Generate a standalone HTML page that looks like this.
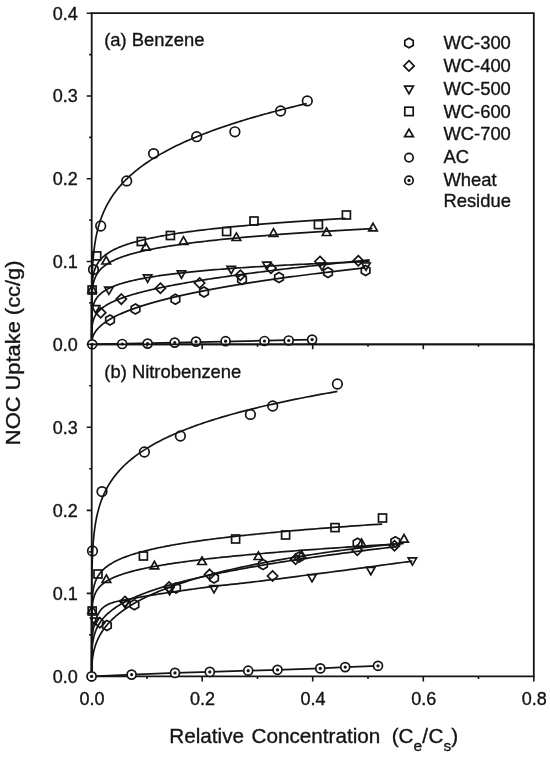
<!DOCTYPE html>
<html><head><meta charset="utf-8"><title>NOC Uptake</title>
<style>
html,body{margin:0;padding:0;background:#fff}
svg{display:block;filter:blur(0.35px)}
text{font-family:"Liberation Sans",Arial,sans-serif;fill:#141414;stroke:#141414;stroke-width:0.35px}
.l{font-size:18.4px}
.tl{font-size:18px}
.ti{font-size:20.7px}
.sub{font-size:15.5px}
.a{fill:none;stroke:#141414;stroke-width:1.8}
.t{fill:none;stroke:#141414;stroke-width:1.6}
.c{fill:none;stroke:#141414;stroke-width:1.7;stroke-linejoin:round}
.m{fill:none;stroke:#141414;stroke-width:1.7;stroke-linejoin:miter}
.d{fill:#141414}
.w{fill:#fff}
</style></head><body>
<svg width="550" height="757" viewBox="0 0 550 757">
<rect width="550" height="757" fill="#fff"/>
<g><path class="a" d="M91.7,13.2 H533.8 V344.3 H91.7 Z"/></g>
<g><polyline class="c" points="91.70,344.30 91.70,328.62 91.70,321.53 91.71,315.98 91.71,311.24 91.73,307.02 91.74,303.18 91.76,299.62 91.79,296.29 91.82,293.15 91.86,290.16 91.90,287.32 91.96,284.58 92.01,281.95 92.08,279.42 92.16,276.96 92.24,274.58 92.33,272.27 92.43,270.02 92.54,267.83 92.66,265.69 92.80,263.59 92.94,261.55 93.09,259.55 93.25,257.58 93.42,255.66 93.61,253.76 93.81,251.91 94.01,250.08 94.23,248.28 94.47,246.52 94.71,244.77 94.97,243.06 95.25,241.37 95.53,239.70 95.83,238.06 96.15,236.43 96.48,234.83 96.82,233.25 97.18,231.69 97.55,230.14 97.94,228.61 98.34,227.10 98.76,225.61 99.19,224.13 99.64,222.67 100.11,221.22 100.60,219.79 101.10,218.37 101.61,216.97 102.15,215.57 102.70,214.19 103.27,212.83 103.86,211.47 104.46,210.13 105.09,208.80 105.73,207.48 106.39,206.17 107.07,204.87 107.77,203.58 108.48,202.30 109.22,201.03 109.98,199.77 110.76,198.52 111.55,197.28 112.37,196.05 113.21,194.83 114.06,193.61 114.94,192.41 115.84,191.21 116.76,190.02 117.70,188.84 118.66,187.66 119.65,186.49 120.66,185.33 121.68,184.18 122.73,183.04 123.81,181.90 124.90,180.77 126.02,179.64 127.16,178.52 128.33,177.41 129.51,176.30 130.72,175.21 131.96,174.11 133.22,173.02 134.50,171.94 135.80,170.87 137.13,169.80 138.49,168.73 139.87,167.67 141.27,166.62 142.70,165.57 144.15,164.53 145.63,163.49 147.14,162.46 148.67,161.43 150.22,160.41 151.81,159.39 153.41,158.38 155.05,157.37 156.71,156.36 158.39,155.37 160.11,154.37 161.85,153.38 163.61,152.39 165.41,151.41 167.23,150.44 169.08,149.46 170.96,148.49 172.86,147.53 174.79,146.57 176.75,145.61 178.74,144.66 180.76,143.71 182.80,142.77 184.88,141.82 186.98,140.89 189.11,139.95 191.27,139.02 193.46,138.10 195.68,137.17 197.93,136.25 200.21,135.34 202.52,134.42 204.86,133.52 207.23,132.61 209.63,131.71 212.06,130.81 214.52,129.91 217.01,129.02 219.53,128.13 222.08,127.24 224.67,126.36 227.28,125.48 229.93,124.60 232.61,123.73 235.32,122.86 238.06,121.99 240.83,121.12 243.64,120.26 246.47,119.40 249.34,118.54 252.25,117.69 255.18,116.84 258.15,115.99 261.15,115.14 264.19,114.30 267.25,113.46 270.35,112.62 273.49,111.78 276.66,110.95 279.86,110.12 283.09,109.29 286.36,108.47 289.67,107.64 293.00,106.82 296.38,106.00 299.78,105.19 303.22,104.38 306.70,103.56"/>
<polyline class="c" points="91.70,344.30 91.70,317.86 91.70,311.57 91.71,307.21 91.72,303.78 91.73,300.89 91.75,298.38 91.77,296.15 91.81,294.13 91.84,292.27 91.89,290.56 91.94,288.95 92.00,287.45 92.07,286.03 92.15,284.69 92.24,283.40 92.34,282.18 92.45,281.01 92.57,279.89 92.70,278.80 92.84,277.76 92.99,276.75 93.16,275.78 93.34,274.83 93.53,273.92 93.74,273.03 93.95,272.16 94.19,271.32 94.43,270.50 94.69,269.69 94.97,268.91 95.26,268.15 95.57,267.40 95.89,266.66 96.23,265.95 96.58,265.25 96.95,264.56 97.34,263.88 97.74,263.22 98.17,262.57 98.61,261.93 99.07,261.30 99.54,260.68 100.04,260.07 100.55,259.48 101.08,258.89 101.63,258.31 102.21,257.74 102.80,257.17 103.41,256.62 104.04,256.07 104.69,255.53 105.36,255.00 106.06,254.48 106.77,253.96 107.51,253.45 108.27,252.94 109.05,252.45 109.85,251.95 110.67,251.47 111.52,250.99 112.39,250.51 113.29,250.04 114.20,249.58 115.14,249.12 116.11,248.66 117.10,248.21 118.11,247.77 119.15,247.33 120.21,246.89 121.29,246.46 122.41,246.03 123.54,245.61 124.71,245.19 125.89,244.78 127.11,244.37 128.35,243.96 129.62,243.56 130.91,243.16 132.23,242.76 133.58,242.37 134.95,241.98 136.35,241.60 137.78,241.21 139.24,240.84 140.73,240.46 142.24,240.09 143.78,239.72 145.35,239.35 146.95,238.99 148.58,238.63 150.24,238.27 151.93,237.91 153.65,237.56 155.39,237.21 157.17,236.86 158.98,236.52 160.81,236.18 162.68,235.84 164.58,235.50 166.51,235.17 168.47,234.83 170.46,234.50 172.48,234.18 174.54,233.85 176.63,233.53 178.75,233.21 180.90,232.89 183.08,232.57 185.30,232.26 187.55,231.94 189.83,231.63 192.14,231.33 194.49,231.02 196.87,230.71 199.29,230.41 201.74,230.11 204.22,229.81 206.74,229.52 209.29,229.22 211.88,228.93 214.50,228.64 217.15,228.35 219.85,228.06 222.57,227.77 225.33,227.49 228.13,227.20 230.96,226.92 233.83,226.64 236.74,226.36 239.68,226.09 242.66,225.81 245.67,225.54 248.72,225.27 251.81,225.00 254.94,224.73 258.10,224.46 261.30,224.19 264.54,223.93 267.81,223.67 271.13,223.40 274.48,223.14 277.87,222.88 281.29,222.63 284.76,222.37 288.27,222.11 291.81,221.86 295.39,221.61 299.02,221.36 302.68,221.11 306.38,220.86 310.12,220.61 313.90,220.36 317.72,220.12 321.58,219.88 325.48,219.63 329.42,219.39 333.41,219.15 337.43,218.91 341.49,218.67 345.60,218.44"/>
<polyline class="c" points="91.70,344.30 91.70,321.84 91.70,316.23 91.71,312.32 91.72,309.22 91.73,306.61 91.76,304.33 91.78,302.30 91.82,300.46 91.86,298.77 91.91,297.20 91.97,295.73 92.03,294.35 92.11,293.05 92.20,291.81 92.30,290.64 92.41,289.51 92.53,288.43 92.66,287.39 92.80,286.40 92.96,285.43 93.13,284.50 93.31,283.60 93.51,282.72 93.72,281.88 93.95,281.05 94.19,280.25 94.45,279.46 94.72,278.70 95.01,277.96 95.32,277.23 95.64,276.52 95.98,275.82 96.33,275.14 96.71,274.47 97.10,273.81 97.51,273.17 97.94,272.54 98.39,271.92 98.85,271.31 99.34,270.72 99.85,270.13 100.37,269.55 100.92,268.98 101.49,268.42 102.08,267.87 102.69,267.32 103.32,266.79 103.97,266.26 104.65,265.74 105.35,265.23 106.07,264.72 106.81,264.22 107.58,263.72 108.37,263.24 109.18,262.75 110.02,262.28 110.88,261.81 111.77,261.34 112.68,260.88 113.62,260.43 114.58,259.98 115.57,259.53 116.59,259.09 117.63,258.66 118.69,258.23 119.79,257.80 120.91,257.38 122.05,256.96 123.23,256.55 124.43,256.14 125.66,255.73 126.92,255.33 128.20,254.93 129.52,254.54 130.86,254.14 132.23,253.76 133.63,253.37 135.06,252.99 136.52,252.61 138.01,252.24 139.54,251.86 141.09,251.49 142.67,251.13 144.28,250.76 145.92,250.40 147.60,250.04 149.30,249.69 151.04,249.34 152.81,248.99 154.61,248.64 156.44,248.29 158.31,247.95 160.21,247.61 162.14,247.27 164.10,246.94 166.10,246.60 168.13,246.27 170.20,245.94 172.30,245.62 174.43,245.29 176.60,244.97 178.81,244.65 181.04,244.33 183.32,244.01 185.62,243.70 187.97,243.38 190.35,243.07 192.76,242.76 195.21,242.46 197.70,242.15 200.22,241.85 202.78,241.54 205.38,241.24 208.02,240.94 210.69,240.65 213.40,240.35 216.14,240.06 218.93,239.76 221.75,239.47 224.61,239.18 227.51,238.89 230.45,238.61 233.42,238.32 236.44,238.04 239.49,237.76 242.59,237.47 245.72,237.19 248.89,236.92 252.11,236.64 255.36,236.36 258.65,236.09 261.99,235.82 265.36,235.54 268.78,235.27 272.23,235.00 275.73,234.73 279.27,234.47 282.85,234.20 286.47,233.94 290.13,233.67 293.84,233.41 297.59,233.15 301.38,232.89 305.21,232.63 309.09,232.37 313.01,232.11 316.97,231.85 320.98,231.60 325.03,231.34 329.12,231.09 333.26,230.84 337.44,230.59 341.67,230.34 345.94,230.09 350.25,229.84 354.61,229.59 359.02,229.34 363.47,229.10 367.96,228.85 372.50,228.61"/>
<polyline class="c" points="91.70,344.30 91.70,333.24 91.70,329.64 91.71,327.02 91.72,324.88 91.73,323.05 91.75,321.41 91.78,319.94 91.82,318.58 91.86,317.32 91.91,316.15 91.96,315.04 92.03,313.99 92.11,312.99 92.19,312.03 92.29,311.12 92.40,310.24 92.52,309.39 92.65,308.58 92.79,307.79 92.95,307.02 93.12,306.28 93.30,305.56 93.49,304.85 93.70,304.17 93.93,303.50 94.17,302.85 94.42,302.21 94.69,301.59 94.98,300.98 95.28,300.39 95.60,299.80 95.93,299.23 96.29,298.67 96.66,298.12 97.04,297.58 97.45,297.04 97.88,296.52 98.32,296.01 98.78,295.50 99.26,295.00 99.76,294.51 100.29,294.03 100.83,293.56 101.39,293.09 101.97,292.62 102.58,292.17 103.20,291.72 103.85,291.28 104.52,290.84 105.21,290.41 105.92,289.98 106.66,289.56 107.42,289.15 108.20,288.74 109.01,288.33 109.84,287.93 110.69,287.53 111.57,287.14 112.48,286.76 113.40,286.37 114.36,286.00 115.33,285.62 116.34,285.25 117.37,284.89 118.42,284.52 119.51,284.17 120.62,283.81 121.75,283.46 122.91,283.11 124.10,282.77 125.32,282.43 126.57,282.09 127.84,281.76 129.14,281.43 130.47,281.10 131.83,280.78 133.22,280.46 134.63,280.14 136.08,279.83 137.55,279.51 139.06,279.20 140.59,278.90 142.16,278.59 143.75,278.29 145.38,278.00 147.04,277.70 148.73,277.41 150.45,277.12 152.20,276.83 153.98,276.55 155.80,276.26 157.64,275.98 159.52,275.71 161.44,275.43 163.38,275.16 165.36,274.89 167.37,274.62 169.42,274.36 171.50,274.09 173.61,273.83 175.76,273.57 177.94,273.32 180.15,273.06 182.40,272.81 184.69,272.56 187.01,272.31 189.36,272.06 191.75,271.82 194.18,271.58 196.64,271.34 199.14,271.10 201.68,270.86 204.25,270.63 206.86,270.40 209.50,270.17 212.18,269.94 214.90,269.71 217.66,269.49 220.45,269.27 223.28,269.04 226.15,268.83 229.06,268.61 232.01,268.39 234.99,268.18 238.02,267.97 241.08,267.76 244.18,267.55 247.32,267.34 250.51,267.14 253.73,266.94 256.99,266.74 260.29,266.54 263.63,266.34 267.01,266.14 270.43,265.95 273.89,265.75 277.40,265.56 280.94,265.37 284.53,265.19 288.16,265.00 291.83,264.81 295.54,264.63 299.29,264.45 303.09,264.27 306.92,264.09 310.80,263.91 314.73,263.74 318.69,263.57 322.70,263.39 326.76,263.22 330.85,263.05 334.99,262.89 339.17,262.72 343.40,262.56 347.67,262.39 351.99,262.23 356.35,262.07 360.76,261.91 365.21,261.75 369.70,261.60"/>
<polyline class="c" points="91.70,344.30 91.70,340.00 91.70,337.98 91.71,336.38 91.72,335.00 91.73,333.78 91.75,332.65 91.78,331.61 91.82,330.63 91.86,329.71 91.91,328.83 91.96,327.98 92.03,327.17 92.11,326.39 92.19,325.64 92.29,324.90 92.40,324.19 92.52,323.50 92.65,322.82 92.79,322.16 92.95,321.52 93.12,320.88 93.30,320.26 93.49,319.66 93.70,319.06 93.93,318.47 94.17,317.90 94.42,317.33 94.69,316.77 94.98,316.22 95.28,315.67 95.60,315.13 95.93,314.60 96.29,314.08 96.66,313.56 97.04,313.05 97.45,312.54 97.88,312.04 98.32,311.54 98.78,311.05 99.26,310.56 99.76,310.08 100.29,309.60 100.83,309.12 101.39,308.65 101.97,308.18 102.58,307.72 103.20,307.26 103.85,306.80 104.52,306.34 105.21,305.89 105.92,305.44 106.66,304.99 107.42,304.55 108.20,304.10 109.01,303.66 109.84,303.23 110.69,302.79 111.57,302.36 112.48,301.93 113.40,301.50 114.36,301.07 115.33,300.64 116.34,300.22 117.37,299.79 118.42,299.37 119.51,298.95 120.62,298.53 121.75,298.11 122.91,297.70 124.10,297.28 125.32,296.87 126.57,296.45 127.84,296.04 129.14,295.63 130.47,295.22 131.83,294.81 133.22,294.40 134.63,293.99 136.08,293.58 137.55,293.17 139.06,292.77 140.59,292.36 142.16,291.96 143.75,291.55 145.38,291.15 147.04,290.74 148.73,290.34 150.45,289.93 152.20,289.53 153.98,289.13 155.80,288.72 157.64,288.32 159.52,287.92 161.44,287.52 163.38,287.11 165.36,286.71 167.37,286.31 169.42,285.91 171.50,285.50 173.61,285.10 175.76,284.70 177.94,284.29 180.15,283.89 182.40,283.49 184.69,283.08 187.01,282.68 189.36,282.27 191.75,281.87 194.18,281.46 196.64,281.06 199.14,280.65 201.68,280.25 204.25,279.84 206.86,279.43 209.50,279.02 212.18,278.62 214.90,278.21 217.66,277.80 220.45,277.39 223.28,276.98 226.15,276.57 229.06,276.15 232.01,275.74 234.99,275.33 238.02,274.91 241.08,274.50 244.18,274.08 247.32,273.67 250.51,273.25 253.73,272.83 256.99,272.41 260.29,272.00 263.63,271.57 267.01,271.15 270.43,270.73 273.89,270.31 277.40,269.88 280.94,269.46 284.53,269.03 288.16,268.61 291.83,268.18 295.54,267.75 299.29,267.32 303.09,266.89 306.92,266.46 310.80,266.02 314.73,265.59 318.69,265.15 322.70,264.72 326.76,264.28 330.85,263.84 334.99,263.40 339.17,262.96 343.40,262.52 347.67,262.08 351.99,261.63 356.35,261.18 360.76,260.74 365.21,260.29 369.70,259.84"/>
<polyline class="c" points="91.70,344.30 91.70,344.04 91.70,343.73 91.71,343.39 91.72,343.04 91.73,342.68 91.75,342.31 91.78,341.93 91.81,341.54 91.85,341.14 91.90,340.74 91.96,340.34 92.02,339.93 92.10,339.51 92.18,339.09 92.28,338.67 92.39,338.24 92.50,337.81 92.63,337.38 92.77,336.94 92.92,336.50 93.09,336.06 93.27,335.62 93.46,335.17 93.67,334.72 93.89,334.27 94.12,333.81 94.37,333.36 94.64,332.90 94.92,332.44 95.22,331.98 95.53,331.52 95.86,331.05 96.20,330.59 96.57,330.12 96.95,329.65 97.35,329.18 97.76,328.71 98.20,328.23 98.65,327.76 99.13,327.28 99.62,326.81 100.13,326.33 100.66,325.85 101.22,325.37 101.79,324.89 102.38,324.41 103.00,323.92 103.63,323.44 104.29,322.95 104.97,322.47 105.67,321.98 106.39,321.49 107.14,321.00 107.91,320.52 108.70,320.03 109.51,319.53 110.35,319.04 111.21,318.55 112.10,318.06 113.01,317.57 113.95,317.07 114.91,316.58 115.90,316.08 116.91,315.59 117.94,315.09 119.01,314.60 120.10,314.10 121.21,313.61 122.35,313.11 123.52,312.61 124.72,312.11 125.94,311.61 127.19,311.12 128.47,310.62 129.77,310.12 131.11,309.62 132.47,309.12 133.86,308.62 135.28,308.12 136.73,307.62 138.21,307.12 139.71,306.62 141.25,306.12 142.82,305.61 144.42,305.11 146.04,304.61 147.70,304.11 149.39,303.61 151.11,303.11 152.86,302.61 154.64,302.10 156.46,301.60 158.30,301.10 160.18,300.60 162.09,300.10 164.04,299.59 166.01,299.09 168.02,298.59 170.06,298.09 172.14,297.59 174.24,297.09 176.39,296.58 178.56,296.08 180.77,295.58 183.02,295.08 185.29,294.58 187.61,294.08 189.95,293.58 192.34,293.08 194.76,292.58 197.21,292.08 199.70,291.58 202.22,291.08 204.78,290.58 207.38,290.08 210.02,289.58 212.69,289.08 215.39,288.58 218.14,288.08 220.92,287.58 223.74,287.09 226.59,286.59 229.49,286.09 232.42,285.59 235.39,285.10 238.39,284.60 241.44,284.10 244.53,283.61 247.65,283.11 250.81,282.62 254.01,282.12 257.26,281.63 260.54,281.14 263.86,280.64 267.22,280.15 270.62,279.66 274.06,279.16 277.54,278.67 281.06,278.18 284.62,277.69 288.23,277.20 291.87,276.71 295.56,276.22 299.28,275.73 303.05,275.24 306.86,274.75 310.72,274.26 314.61,273.78 318.55,273.29 322.53,272.80 326.55,272.32 330.62,271.83 334.72,271.35 338.88,270.86 343.07,270.38 347.31,269.90 351.59,269.41 355.92,268.93 360.29,268.45 364.70,267.97"/>
<polyline class="c" points="91.70,344.30 312.10,339.70"/></g>
<g><polygon class="m" points="110.0,315.0 105.7,317.5 105.7,322.5 110.0,325.0 114.3,322.5 114.3,317.5"/>
<polygon class="m" points="135.5,304.1 131.2,306.6 131.2,311.6 135.5,314.1 139.8,311.6 139.8,306.6"/>
<polygon class="m" points="175.4,294.2 171.1,296.7 171.1,301.7 175.4,304.2 179.7,301.7 179.7,296.7"/>
<polygon class="m" points="204.0,287.0 199.7,289.5 199.7,294.5 204.0,297.0 208.3,294.5 208.3,289.5"/>
<polygon class="m" points="242.0,274.5 237.7,277.0 237.7,282.0 242.0,284.5 246.3,282.0 246.3,277.0"/>
<polygon class="m" points="279.0,272.5 274.7,275.0 274.7,280.0 279.0,282.5 283.3,280.0 283.3,275.0"/>
<polygon class="m" points="328.0,267.6 323.7,270.1 323.7,275.1 328.0,277.6 332.3,275.1 332.3,270.1"/>
<polygon class="m" points="365.6,265.6 361.3,268.1 361.3,273.1 365.6,275.6 369.9,273.1 369.9,268.1"/>
<polygon class="m" points="100.7,307.6 105.8,312.7 100.7,317.8 95.6,312.7"/>
<polygon class="m" points="121.3,294.0 126.4,299.1 121.3,304.2 116.2,299.1"/>
<polygon class="m" points="160.4,283.1 165.5,288.2 160.4,293.3 155.3,288.2"/>
<polygon class="m" points="199.6,277.9 204.7,283.0 199.6,288.1 194.5,283.0"/>
<polygon class="m" points="240.4,270.1 245.5,275.2 240.4,280.3 235.3,275.2"/>
<polygon class="m" points="271.0,263.1 276.1,268.2 271.0,273.3 265.9,268.2"/>
<polygon class="m" points="320.0,256.4 325.1,261.5 320.0,266.6 314.9,261.5"/>
<polygon class="m" points="358.3,255.7 363.4,260.8 358.3,265.9 353.2,260.8"/>
<polygon class="m" points="91.4,305.6 99.8,305.6 95.6,312.9"/>
<polygon class="m" points="104.7,287.1 113.1,287.1 108.9,294.4"/>
<polygon class="m" points="143.4,274.9 151.8,274.9 147.6,282.2"/>
<polygon class="m" points="177.3,270.9 185.7,270.9 181.5,278.2"/>
<polygon class="m" points="227.0,266.4 235.4,266.4 231.2,273.7"/>
<polygon class="m" points="262.7,262.1 271.1,262.1 266.9,269.4"/>
<polygon class="m" points="317.8,263.0 326.2,263.0 322.0,270.3"/>
<polygon class="m" points="361.8,263.0 370.2,263.0 366.0,270.3"/>
<rect class="m" x="88.1" y="286.0" width="8.0" height="8.0"/>
<rect class="m" x="92.7" y="251.9" width="8.0" height="8.0"/>
<rect class="m" x="137.3" y="237.5" width="8.0" height="8.0"/>
<rect class="m" x="166.4" y="231.5" width="8.0" height="8.0"/>
<rect class="m" x="222.6" y="227.5" width="8.0" height="8.0"/>
<rect class="m" x="250.0" y="217.0" width="8.0" height="8.0"/>
<rect class="m" x="314.4" y="220.6" width="8.0" height="8.0"/>
<rect class="m" x="342.4" y="211.0" width="8.0" height="8.0"/>
<polygon class="m" points="87.9,292.5 96.5,292.5 92.2,284.9"/>
<polygon class="m" points="101.9,264.0 110.5,264.0 106.2,256.4"/>
<polygon class="m" points="141.5,250.1 150.1,250.1 145.8,242.5"/>
<polygon class="m" points="179.2,244.3 187.8,244.3 183.5,236.7"/>
<polygon class="m" points="232.1,240.5 240.7,240.5 236.4,232.9"/>
<polygon class="m" points="269.2,236.3 277.8,236.3 273.5,228.7"/>
<polygon class="m" points="322.3,235.5 330.9,235.5 326.6,227.9"/>
<polygon class="m" points="368.7,230.9 377.3,230.9 373.0,223.3"/>
<circle class="m" cx="93.5" cy="269.6" r="4.8"/>
<circle class="m" cx="100.7" cy="226.0" r="4.8"/>
<circle class="m" cx="126.7" cy="180.9" r="4.8"/>
<circle class="m" cx="153.6" cy="153.6" r="4.8"/>
<circle class="m" cx="196.7" cy="136.7" r="4.8"/>
<circle class="m" cx="234.9" cy="131.8" r="4.8"/>
<circle class="m" cx="280.6" cy="111.0" r="4.8"/>
<circle class="m" cx="307.3" cy="100.9" r="4.8"/>
<circle class="m w" cx="92.2" cy="344.3" r="4.5"/><circle class="d" cx="92.2" cy="344.3" r="1.6"/>
<circle class="m w" cx="122.2" cy="344.0" r="4.5"/><circle class="d" cx="122.2" cy="344.0" r="1.6"/>
<circle class="m w" cx="147.6" cy="343.6" r="4.5"/><circle class="d" cx="147.6" cy="343.6" r="1.6"/>
<circle class="m w" cx="174.7" cy="342.6" r="4.5"/><circle class="d" cx="174.7" cy="342.6" r="1.6"/>
<circle class="m w" cx="196.0" cy="341.6" r="4.5"/><circle class="d" cx="196.0" cy="341.6" r="1.6"/>
<circle class="m w" cx="225.6" cy="341.2" r="4.5"/><circle class="d" cx="225.6" cy="341.2" r="1.6"/>
<circle class="m w" cx="264.5" cy="341.0" r="4.5"/><circle class="d" cx="264.5" cy="341.0" r="1.6"/>
<circle class="m w" cx="288.7" cy="340.5" r="4.5"/><circle class="d" cx="288.7" cy="340.5" r="1.6"/>
<circle class="m w" cx="312.1" cy="339.6" r="4.5"/><circle class="d" cx="312.1" cy="339.6" r="1.6"/></g>
<g><path class="a" d="M91.7,344.3 H533.8 V676.4 H91.7 Z"/></g>
<g><path class="t" d="M91.7,344.3 v5.0 M91.7,676.4 v5.0 M147.0,344.3 v2.5 M147.0,676.4 v2.5 M202.2,344.3 v5.0 M202.2,676.4 v5.0 M257.5,344.3 v2.5 M257.5,676.4 v2.5 M312.7,344.3 v5.0 M312.7,676.4 v5.0 M368.0,344.3 v2.5 M368.0,676.4 v2.5 M423.3,344.3 v5.0 M423.3,676.4 v5.0 M478.5,344.3 v2.5 M478.5,676.4 v2.5 M533.8,344.3 v5.0 M533.8,676.4 v5.0 M91.7,344.3 h-5.0 M91.7,676.4 h-5.0 M91.7,302.9 h-2.5 M91.7,634.9 h-2.5 M91.7,261.5 h-5.0 M91.7,593.4 h-5.0 M91.7,220.1 h-2.5 M91.7,551.9 h-2.5 M91.7,178.8 h-5.0 M91.7,510.4 h-5.0 M91.7,137.4 h-2.5 M91.7,468.8 h-2.5 M91.7,96.0 h-5.0 M91.7,427.3 h-5.0 M91.7,54.6 h-2.5 M91.7,385.8 h-2.5 M91.7,13.2 h-5.0"/></g>
<g><polyline class="c" points="91.70,676.40 91.70,636.50 91.70,624.21 91.71,615.34 91.72,608.14 91.73,601.97 91.75,596.53 91.77,591.61 91.80,587.11 91.84,582.94 91.88,579.05 91.93,575.39 91.99,571.92 92.06,568.63 92.14,565.50 92.22,562.49 92.32,559.61 92.42,556.83 92.54,554.16 92.66,551.57 92.80,549.06 92.95,546.63 93.11,544.27 93.29,541.98 93.47,539.74 93.67,537.56 93.88,535.44 94.11,533.36 94.34,531.33 94.60,529.35 94.86,527.40 95.15,525.50 95.44,523.63 95.75,521.80 96.08,520.00 96.42,518.24 96.78,516.50 97.16,514.79 97.55,513.12 97.96,511.46 98.38,509.84 98.83,508.24 99.29,506.66 99.77,505.11 100.26,503.57 100.78,502.06 101.31,500.57 101.87,499.10 102.44,497.65 103.03,496.21 103.64,494.80 104.27,493.40 104.92,492.02 105.59,490.65 106.29,489.30 107.00,487.97 107.73,486.65 108.49,485.34 109.26,484.05 110.06,482.77 110.88,481.51 111.72,480.26 112.59,479.02 113.48,477.79 114.39,476.57 115.32,475.37 116.28,474.18 117.26,473.00 118.26,471.83 119.29,470.67 120.34,469.52 121.41,468.38 122.51,467.24 123.64,466.12 124.79,465.01 125.97,463.91 127.17,462.82 128.39,461.73 129.64,460.66 130.92,459.59 132.23,458.53 133.56,457.48 134.91,456.44 136.30,455.40 137.71,454.37 139.14,453.35 140.61,452.34 142.10,451.34 143.62,450.34 145.17,449.34 146.75,448.36 148.35,447.38 149.98,446.41 151.64,445.44 153.33,444.49 155.05,443.53 156.80,442.59 158.58,441.65 160.39,440.71 162.23,439.78 164.09,438.86 165.99,437.94 167.92,437.03 169.88,436.12 171.86,435.22 173.88,434.33 175.93,433.44 178.02,432.55 180.13,431.67 182.27,430.80 184.45,429.92 186.66,429.06 188.90,428.20 191.17,427.34 193.48,426.49 195.81,425.64 198.18,424.80 200.59,423.96 203.02,423.13 205.49,422.30 208.00,421.47 210.53,420.65 213.10,419.84 215.71,419.02 218.35,418.22 221.02,417.41 223.73,416.61 226.47,415.81 229.24,415.02 232.05,414.23 234.90,413.45 237.78,412.66 240.70,411.89 243.65,411.11 246.64,410.34 249.67,409.57 252.73,408.81 255.82,408.05 258.95,407.29 262.12,406.54 265.33,405.79 268.57,405.04 271.85,404.30 275.17,403.56 278.53,402.82 281.92,402.08 285.35,401.35 288.81,400.62 292.32,399.90 295.86,399.18 299.44,398.46 303.07,397.74 306.72,397.03 310.42,396.32 314.16,395.61 317.93,394.90 321.75,394.20 325.60,393.50 329.49,392.81 333.43,392.11 337.40,391.42"/>
<polyline class="c" points="91.70,676.40 91.70,638.17 91.70,630.38 91.71,625.11 91.72,621.01 91.74,617.60 91.76,614.66 91.79,612.06 91.82,609.72 91.86,607.59 91.91,605.62 91.98,603.79 92.05,602.08 92.13,600.48 92.22,598.95 92.32,597.51 92.43,596.14 92.55,594.82 92.69,593.56 92.84,592.36 93.00,591.19 93.18,590.07 93.37,588.99 93.57,587.94 93.79,586.93 94.03,585.94 94.28,584.98 94.54,584.05 94.83,583.15 95.13,582.27 95.44,581.40 95.77,580.56 96.12,579.74 96.49,578.94 96.88,578.15 97.28,577.38 97.71,576.63 98.15,575.89 98.62,575.17 99.10,574.46 99.60,573.76 100.13,573.07 100.67,572.40 101.24,571.73 101.83,571.08 102.43,570.44 103.07,569.81 103.72,569.18 104.40,568.57 105.10,567.97 105.82,567.37 106.56,566.78 107.33,566.20 108.13,565.63 108.94,565.07 109.79,564.51 110.65,563.96 111.55,563.41 112.47,562.88 113.41,562.34 114.38,561.82 115.38,561.30 116.40,560.79 117.45,560.28 118.52,559.77 119.63,559.28 120.76,558.78 121.92,558.30 123.10,557.81 124.32,557.34 125.56,556.86 126.83,556.39 128.13,555.93 129.46,555.47 130.82,555.01 132.21,554.56 133.63,554.11 135.08,553.66 136.56,553.22 138.07,552.78 139.61,552.35 141.19,551.92 142.79,551.49 144.43,551.06 146.10,550.64 147.79,550.22 149.53,549.81 151.29,549.39 153.09,548.98 154.92,548.58 156.78,548.17 158.68,547.77 160.61,547.37 162.57,546.97 164.57,546.58 166.61,546.19 168.67,545.80 170.78,545.41 172.91,545.03 175.08,544.64 177.29,544.26 179.54,543.88 181.81,543.51 184.13,543.13 186.48,542.76 188.87,542.39 191.29,542.02 193.75,541.65 196.25,541.29 198.79,540.93 201.36,540.56 203.97,540.20 206.62,539.85 209.31,539.49 212.03,539.13 214.80,538.78 217.60,538.43 220.44,538.08 223.32,537.73 226.24,537.38 229.20,537.04 232.20,536.69 235.24,536.35 238.32,536.00 241.44,535.66 244.60,535.32 247.80,534.98 251.04,534.65 254.32,534.31 257.65,533.98 261.01,533.64 264.42,533.31 267.87,532.98 271.36,532.65 274.89,532.32 278.47,531.99 282.09,531.66 285.75,531.33 289.45,531.01 293.20,530.68 296.99,530.36 300.82,530.03 304.70,529.71 308.62,529.39 312.59,529.07 316.60,528.75 320.66,528.43 324.76,528.11 328.90,527.79 333.09,527.47 337.32,527.16 341.60,526.84 345.93,526.53 350.30,526.21 354.72,525.90 359.18,525.58 363.69,525.27 368.25,524.96 372.85,524.65 377.50,524.34 382.20,524.03"/>
<polyline class="c" points="91.70,676.40 91.70,639.95 91.70,633.20 91.71,628.69 91.72,625.21 91.74,622.34 91.76,619.87 91.79,617.69 91.83,615.74 91.88,613.96 91.93,612.33 92.00,610.81 92.07,609.40 92.16,608.07 92.25,606.82 92.36,605.63 92.48,604.50 92.62,603.42 92.76,602.39 92.92,601.40 93.10,600.45 93.29,599.53 93.49,598.65 93.71,597.79 93.95,596.96 94.20,596.16 94.47,595.38 94.75,594.62 95.05,593.88 95.37,593.17 95.71,592.47 96.07,591.78 96.45,591.11 96.84,590.46 97.26,589.82 97.69,589.20 98.15,588.59 98.62,587.99 99.12,587.40 99.64,586.82 100.18,586.25 100.74,585.69 101.32,585.15 101.93,584.61 102.56,584.08 103.21,583.56 103.89,583.04 104.59,582.54 105.32,582.04 106.07,581.55 106.84,581.06 107.64,580.58 108.47,580.11 109.32,579.64 110.20,579.18 111.10,578.73 112.03,578.28 112.99,577.83 113.97,577.39 114.99,576.96 116.03,576.53 117.09,576.11 118.19,575.68 119.32,575.27 120.47,574.86 121.65,574.45 122.87,574.04 124.11,573.64 125.38,573.24 126.69,572.85 128.02,572.46 129.38,572.07 130.78,571.69 132.21,571.31 133.67,570.93 135.16,570.55 136.68,570.18 138.23,569.81 139.82,569.45 141.44,569.08 143.09,568.72 144.78,568.36 146.50,568.00 148.26,567.65 150.05,567.29 151.87,566.94 153.73,566.59 155.62,566.25 157.55,565.90 159.51,565.56 161.51,565.22 163.54,564.88 165.62,564.54 167.72,564.21 169.87,563.87 172.05,563.54 174.26,563.21 176.52,562.88 178.81,562.55 181.14,562.22 183.51,561.90 185.92,561.57 188.36,561.25 190.84,560.93 193.37,560.61 195.93,560.29 198.53,559.97 201.17,559.65 203.85,559.33 206.57,559.02 209.33,558.71 212.13,558.39 214.97,558.08 217.85,557.77 220.77,557.46 223.74,557.15 226.74,556.84 229.79,556.53 232.88,556.22 236.01,555.91 239.19,555.61 242.40,555.30 245.66,555.00 248.97,554.69 252.31,554.39 255.70,554.08 259.14,553.78 262.61,553.48 266.13,553.18 269.70,552.87 273.31,552.57 276.96,552.27 280.66,551.97 284.41,551.67 288.20,551.37 292.03,551.07 295.91,550.77 299.84,550.47 303.81,550.18 307.83,549.88 311.90,549.58 316.01,549.28 320.17,548.98 324.38,548.68 328.63,548.39 332.94,548.09 337.29,547.79 341.68,547.50 346.13,547.20 350.62,546.90 355.16,546.60 359.76,546.31 364.40,546.01 369.09,545.71 373.82,545.42 378.61,545.12 383.45,544.82 388.34,544.52 393.27,544.23 398.26,543.93 403.30,543.63"/>
<polyline class="c" points="91.70,676.40 91.70,666.68 91.70,662.47 91.71,659.20 91.72,656.42 91.74,653.97 91.76,651.73 91.79,649.68 91.83,647.75 91.88,645.94 91.94,644.23 92.00,642.59 92.08,641.03 92.17,639.53 92.27,638.08 92.38,636.68 92.51,635.32 92.64,634.01 92.79,632.73 92.96,631.48 93.14,630.27 93.33,629.08 93.54,627.92 93.77,626.79 94.01,625.68 94.27,624.59 94.55,623.53 94.84,622.48 95.15,621.45 95.48,620.44 95.83,619.44 96.20,618.46 96.58,617.50 96.99,616.55 97.42,615.61 97.87,614.69 98.33,613.78 98.82,612.88 99.34,612.02 99.87,611.21 100.42,610.45 101.00,609.73 101.60,609.05 102.23,608.40 102.88,607.80 103.55,607.22 104.25,606.68 104.97,606.17 105.72,605.69 106.49,605.24 107.29,604.80 108.11,604.39 108.96,604.00 109.83,603.63 110.74,603.28 111.67,602.95 112.63,602.63 113.61,602.32 114.62,602.04 115.67,601.76 116.74,601.50 117.84,601.25 118.96,601.01 120.12,600.77 121.31,600.55 122.53,600.36 123.78,600.16 125.06,599.93 126.37,599.69 127.71,599.44 129.08,599.18 130.48,598.92 131.92,598.65 133.39,598.37 134.89,598.10 136.42,597.81 137.99,597.53 139.59,597.24 141.23,596.95 142.89,596.65 144.60,596.35 146.33,596.05 148.10,595.75 149.91,595.45 151.75,595.15 153.63,594.84 155.54,594.54 157.49,594.23 159.47,593.92 161.49,593.62 163.55,593.31 165.64,593.00 167.77,592.69 169.94,592.39 172.15,592.08 174.39,591.77 176.68,591.44 179.00,591.11 181.36,590.77 183.75,590.42 186.19,590.07 188.67,589.71 191.18,589.35 193.74,588.99 196.33,588.62 198.97,588.26 201.65,587.90 204.36,587.54 207.12,587.18 209.92,586.82 212.76,586.47 215.64,586.13 218.57,585.79 221.53,585.46 224.54,585.13 227.59,584.80 230.69,584.47 233.82,584.13 237.00,583.79 240.23,583.44 243.50,583.08 246.81,582.70 250.16,582.32 253.56,581.91 257.00,581.50 260.49,581.07 264.03,580.64 267.60,580.19 271.23,579.73 274.90,579.26 278.61,578.79 282.37,578.30 286.18,577.81 290.04,577.31 293.94,576.81 297.88,576.29 301.88,575.77 305.92,575.25 310.01,574.72 314.15,574.18 318.33,573.65 322.56,573.10 326.85,572.56 331.18,572.00 335.55,571.45 339.98,570.87 344.46,570.29 348.98,569.68 353.56,569.07 358.18,568.45 362.86,567.81 367.58,567.17 372.36,566.52 377.19,565.86 382.06,565.19 386.99,564.52 391.97,563.84 397.00,563.16 402.08,562.48 407.21,561.79 412.40,561.10"/>
<polyline class="c" points="91.70,676.40 91.70,670.30 91.70,667.21 91.71,664.73 91.72,662.58 91.74,660.63 91.76,658.84 91.79,657.17 91.83,655.60 91.87,654.10 91.93,652.67 91.99,651.30 92.06,649.97 92.15,648.70 92.24,647.46 92.35,646.25 92.47,645.08 92.60,643.94 92.74,642.82 92.90,641.73 93.07,640.66 93.26,639.62 93.46,638.59 93.67,637.58 93.90,636.59 94.15,635.62 94.41,634.66 94.69,633.71 94.99,632.78 95.31,631.86 95.64,630.96 95.99,630.06 96.36,629.18 96.75,628.31 97.15,627.44 97.58,626.59 98.03,625.75 98.49,624.91 98.98,624.09 99.49,623.27 100.02,622.46 100.57,621.65 101.14,620.86 101.74,620.07 102.36,619.29 103.00,618.51 103.66,617.74 104.35,616.98 105.06,616.22 105.80,615.47 106.56,614.73 107.35,613.99 108.16,613.25 108.99,612.52 109.85,611.79 110.74,611.07 111.65,610.36 112.59,609.64 113.56,608.94 114.55,608.23 115.57,607.53 116.62,606.83 117.70,606.14 118.80,605.45 119.94,604.77 121.10,604.08 122.29,603.41 123.51,602.73 124.76,602.06 126.03,601.39 127.34,600.72 128.68,600.06 130.05,599.40 131.45,598.74 132.88,598.08 134.35,597.43 135.84,596.78 137.37,596.13 138.92,595.48 140.52,594.84 142.14,594.20 143.79,593.56 145.48,592.92 147.20,592.29 148.96,591.66 150.75,591.03 152.57,590.40 154.43,589.77 156.32,589.14 158.25,588.52 160.21,587.90 162.21,587.28 164.24,586.66 166.31,586.04 168.41,585.43 170.55,584.81 172.73,584.20 174.94,583.59 177.19,582.98 179.48,582.37 181.80,581.76 184.16,581.15 186.56,580.55 189.00,579.94 191.47,579.34 193.99,578.74 196.54,578.14 199.13,577.54 201.76,576.94 204.43,576.34 207.14,575.74 209.89,575.15 212.67,574.55 215.50,573.96 218.37,573.36 221.28,572.77 224.23,572.18 227.22,571.59 230.25,570.99 233.33,570.40 236.44,569.81 239.60,569.22 242.80,568.64 246.04,568.05 249.32,567.46 252.65,566.87 256.02,566.29 259.43,565.70 262.89,565.12 266.39,564.53 269.93,563.94 273.52,563.36 277.15,562.78 280.82,562.19 284.54,561.61 288.30,561.02 292.11,560.44 295.97,559.86 299.87,559.28 303.81,558.69 307.80,558.11 311.84,557.53 315.92,556.95 320.05,556.36 324.22,555.78 328.45,555.20 332.71,554.62 337.03,554.04 341.39,553.45 345.80,552.87 350.26,552.29 354.77,551.71 359.32,551.13 363.92,550.55 368.57,549.96 373.27,549.38 378.02,548.80 382.82,548.22 387.66,547.63 392.56,547.05 397.50,546.47"/>
<polyline class="c" points="91.70,676.40 91.70,675.14 91.70,673.96 91.71,672.81 91.72,671.68 91.74,670.56 91.76,669.45 91.79,668.35 91.83,667.26 91.88,666.18 91.93,665.11 92.00,664.03 92.07,662.97 92.16,661.91 92.25,660.85 92.36,659.80 92.48,658.75 92.62,657.71 92.77,656.67 92.93,655.64 93.10,654.61 93.29,653.58 93.50,652.56 93.72,651.54 93.95,650.52 94.20,649.50 94.47,648.49 94.76,647.49 95.06,646.48 95.38,645.48 95.72,644.48 96.08,643.49 96.46,642.50 96.85,641.51 97.27,640.52 97.70,639.54 98.16,638.56 98.64,637.59 99.14,636.61 99.65,635.64 100.20,634.68 100.76,633.71 101.35,632.75 101.95,631.79 102.59,630.84 103.24,629.89 103.92,628.94 104.62,627.99 105.35,627.05 106.10,626.11 106.88,625.17 107.68,624.23 108.51,623.30 109.36,622.37 110.24,621.45 111.14,620.53 112.08,619.61 113.04,618.69 114.02,617.78 115.04,616.87 116.08,615.96 117.15,615.06 118.25,614.16 119.38,613.26 120.54,612.37 121.72,611.47 122.94,610.59 124.18,609.70 125.46,608.82 126.76,607.94 128.10,607.06 129.47,606.19 130.87,605.32 132.30,604.46 133.76,603.59 135.25,602.73 136.78,601.88 138.34,601.02 139.93,600.17 141.55,599.33 143.21,598.49 144.90,597.65 146.63,596.81 148.38,595.98 150.18,595.15 152.00,594.32 153.87,593.50 155.76,592.68 157.70,591.86 159.66,591.05 161.67,590.24 163.71,589.43 165.78,588.63 167.89,587.83 170.04,587.04 172.23,586.24 174.45,585.46 176.71,584.67 179.01,583.89 181.34,583.11 183.72,582.34 186.13,581.57 188.58,580.80 191.07,580.04 193.59,579.28 196.16,578.52 198.77,577.77 201.41,577.02 204.10,576.27 206.82,575.53 209.59,574.79 212.40,574.06 215.25,573.33 218.13,572.60 221.06,571.88 224.03,571.16 227.05,570.45 230.10,569.74 233.20,569.03 236.34,568.33 239.52,567.63 242.74,566.93 246.01,566.24 249.32,565.55 252.67,564.87 256.07,564.19 259.51,563.51 263.00,562.84 266.53,562.17 270.10,561.51 273.72,560.84 277.38,560.19 281.09,559.54 284.84,558.89 288.64,558.24 292.48,557.60 296.37,556.97 300.31,556.34 304.29,555.71 308.32,555.09 312.40,554.47 316.52,553.85 320.69,553.24 324.90,552.63 329.17,552.03 333.48,551.43 337.84,550.84 342.24,550.25 346.70,549.66 351.20,549.08 355.76,548.50 360.36,547.93 365.01,547.36 369.71,546.80 374.46,546.24 379.26,545.68 384.10,545.13 389.00,544.58 393.95,544.04 398.95,543.50 404.00,542.97"/>
<polyline class="c" points="91.70,676.40 131.60,674.60 175.00,672.90 209.80,671.90 248.20,670.70 277.50,669.80 320.30,668.40 345.20,667.10 378.00,665.80"/></g>
<g><polygon class="m" points="106.9,620.6 102.6,623.1 102.6,628.1 106.9,630.6 111.2,628.1 111.2,623.1"/>
<polygon class="m" points="134.4,599.7 130.1,602.2 130.1,607.2 134.4,609.7 138.7,607.2 138.7,602.2"/>
<polygon class="m" points="176.0,583.0 171.7,585.5 171.7,590.5 176.0,593.0 180.3,590.5 180.3,585.5"/>
<polygon class="m" points="214.0,573.0 209.7,575.5 209.7,580.5 214.0,583.0 218.3,580.5 218.3,575.5"/>
<polygon class="m" points="263.0,559.4 258.7,561.9 258.7,566.9 263.0,569.4 267.3,566.9 267.3,561.9"/>
<polygon class="m" points="299.3,552.0 295.0,554.5 295.0,559.5 299.3,562.0 303.6,559.5 303.6,554.5"/>
<polygon class="m" points="357.6,538.3 353.3,540.8 353.3,545.8 357.6,548.3 361.9,545.8 361.9,540.8"/>
<polygon class="m" points="395.3,536.8 391.0,539.3 391.0,544.3 395.3,546.8 399.6,544.3 399.6,539.3"/>
<polygon class="m" points="99.8,617.6 104.9,622.7 99.8,627.8 94.7,622.7"/>
<polygon class="m" points="125.0,596.4 130.1,601.5 125.0,606.6 119.9,601.5"/>
<polygon class="m" points="169.0,581.9 174.1,587.0 169.0,592.1 163.9,587.0"/>
<polygon class="m" points="209.6,569.3 214.7,574.4 209.6,579.5 204.5,574.4"/>
<polygon class="m" points="272.6,570.9 277.7,576.0 272.6,581.1 267.5,576.0"/>
<polygon class="m" points="295.6,554.1 300.7,559.2 295.6,564.3 290.5,559.2"/>
<polygon class="m" points="357.3,545.2 362.4,550.3 357.3,555.4 352.2,550.3"/>
<polygon class="m" points="394.5,540.6 399.6,545.7 394.5,550.8 389.4,545.7"/>
<polygon class="m" points="90.6,618.1 99.0,618.1 94.8,625.4"/>
<polygon class="m" points="120.8,600.6 129.2,600.6 125.0,607.9"/>
<polygon class="m" points="165.4,587.6 173.8,587.6 169.6,594.9"/>
<polygon class="m" points="209.8,585.6 218.2,585.6 214.0,592.9"/>
<polygon class="m" points="307.8,574.6 316.2,574.6 312.0,581.9"/>
<polygon class="m" points="366.6,567.4 375.0,567.4 370.8,574.7"/>
<polygon class="m" points="408.2,557.8 416.6,557.8 412.4,565.1"/>
<rect class="m" x="88.2" y="607.0" width="8.0" height="8.0"/>
<rect class="m" x="94.0" y="570.0" width="8.0" height="8.0"/>
<rect class="m" x="139.4" y="552.0" width="8.0" height="8.0"/>
<rect class="m" x="231.6" y="535.0" width="8.0" height="8.0"/>
<rect class="m" x="281.6" y="531.0" width="8.0" height="8.0"/>
<rect class="m" x="331.0" y="523.6" width="8.0" height="8.0"/>
<rect class="m" x="378.5" y="514.0" width="8.0" height="8.0"/>
<polygon class="m" points="87.9,613.5 96.5,613.5 92.2,605.9"/>
<polygon class="m" points="102.1,582.5 110.7,582.5 106.4,574.9"/>
<polygon class="m" points="150.1,568.9 158.7,568.9 154.4,561.3"/>
<polygon class="m" points="197.7,564.5 206.3,564.5 202.0,556.9"/>
<polygon class="m" points="254.1,559.5 262.7,559.5 258.4,551.9"/>
<polygon class="m" points="297.3,558.3 305.9,558.3 301.6,550.7"/>
<polygon class="m" points="357.2,546.7 365.8,546.7 361.5,539.1"/>
<polygon class="m" points="399.7,542.2 408.3,542.2 404.0,534.6"/>
<circle class="m" cx="92.5" cy="551.0" r="4.8"/>
<circle class="m" cx="102.0" cy="491.6" r="4.8"/>
<circle class="m" cx="144.4" cy="452.0" r="4.8"/>
<circle class="m" cx="180.4" cy="436.0" r="4.8"/>
<circle class="m" cx="250.4" cy="414.4" r="4.8"/>
<circle class="m" cx="272.7" cy="406.0" r="4.8"/>
<circle class="m" cx="337.4" cy="384.0" r="4.8"/>
<circle class="m w" cx="91.6" cy="676.4" r="4.5"/><circle class="d" cx="91.6" cy="676.4" r="1.6"/>
<circle class="m w" cx="131.6" cy="674.6" r="4.5"/><circle class="d" cx="131.6" cy="674.6" r="1.6"/>
<circle class="m w" cx="175.0" cy="672.9" r="4.5"/><circle class="d" cx="175.0" cy="672.9" r="1.6"/>
<circle class="m w" cx="209.8" cy="671.9" r="4.5"/><circle class="d" cx="209.8" cy="671.9" r="1.6"/>
<circle class="m w" cx="248.2" cy="670.7" r="4.5"/><circle class="d" cx="248.2" cy="670.7" r="1.6"/>
<circle class="m w" cx="277.5" cy="669.8" r="4.5"/><circle class="d" cx="277.5" cy="669.8" r="1.6"/>
<circle class="m w" cx="320.3" cy="668.4" r="4.5"/><circle class="d" cx="320.3" cy="668.4" r="1.6"/>
<circle class="m w" cx="345.2" cy="667.1" r="4.5"/><circle class="d" cx="345.2" cy="667.1" r="1.6"/>
<circle class="m w" cx="378.0" cy="665.8" r="4.5"/><circle class="d" cx="378.0" cy="665.8" r="1.6"/></g>
<g><text class="tl" text-anchor="end" x="77.8" y="350.6">0.0</text>
<text class="tl" text-anchor="end" x="77.8" y="267.8">0.1</text>
<text class="tl" text-anchor="end" x="77.8" y="185.1">0.2</text>
<text class="tl" text-anchor="end" x="77.8" y="102.3">0.3</text>
<text class="tl" text-anchor="end" x="77.8" y="19.5">0.4</text>
<text class="tl" text-anchor="end" x="77.8" y="682.7">0.0</text>
<text class="tl" text-anchor="end" x="77.8" y="599.7">0.1</text>
<text class="tl" text-anchor="end" x="77.8" y="516.6">0.2</text>
<text class="tl" text-anchor="end" x="77.8" y="433.6">0.3</text>
<text class="tl" text-anchor="middle" x="92.1" y="705.3">0.0</text>
<text class="tl" text-anchor="middle" x="202.6" y="705.3">0.2</text>
<text class="tl" text-anchor="middle" x="313.1" y="705.3">0.4</text>
<text class="tl" text-anchor="middle" x="423.7" y="705.3">0.6</text>
<text class="tl" text-anchor="middle" x="534.2" y="705.3">0.8</text>
<text class="l" x="104.2" y="45.6">(a) Benzene</text>
<text class="l" x="104.3" y="378.4">(b) Nitrobenzene</text>
<text class="ti" y="743.2"><tspan x="169.3">Relative</tspan> <tspan x="251.5">Concentration</tspan> <tspan x="391.8">(</tspan><tspan x="398.4">C</tspan><tspan class="sub" x="413.4" y="750.6">e</tspan><tspan x="422.3" y="743.2">/</tspan><tspan x="428.4">C</tspan><tspan class="sub" x="443.4" y="750.6">s</tspan><tspan x="451.3" y="743.2">)</tspan></text>
<text class="ti" text-anchor="middle" transform="translate(20.0,352.8) rotate(-90) scale(1.057,1)">NOC Uptake (cc/g)</text></g>
<g><polygon class="m" points="409.0,38.2 404.8,40.6 404.8,45.4 409.0,47.8 413.2,45.4 413.2,40.6"/>
<text class="l" x="443.4" y="49.4">WC-300</text>
<polygon class="m" points="409.0,60.7 414.2,65.9 409.0,71.1 403.8,65.9"/>
<text class="l" x="443.4" y="72.2">WC-400</text>
<polygon class="m" points="404.6,86.1 413.4,86.1 409.0,93.7"/>
<text class="l" x="443.4" y="95.0">WC-500</text>
<rect class="m" x="404.8" y="107.2" width="8.4" height="8.4"/>
<text class="l" x="443.4" y="117.7">WC-600</text>
<polygon class="m" points="404.6,136.7 413.4,136.7 409.0,129.1"/>
<text class="l" x="443.4" y="140.2">WC-700</text>
<circle class="m" cx="409.0" cy="157.6" r="4.2"/>
<text class="l" x="443.4" y="163.3">AC</text>
<circle class="m w" cx="409.0" cy="180.4" r="4.2"/><circle class="d" cx="409.0" cy="180.4" r="1.6"/>
<text class="l" x="443.4" y="185.8">Wheat</text>
<text class="l" x="443.4" y="206.9">Residue</text></g>
</svg>
</body></html>
